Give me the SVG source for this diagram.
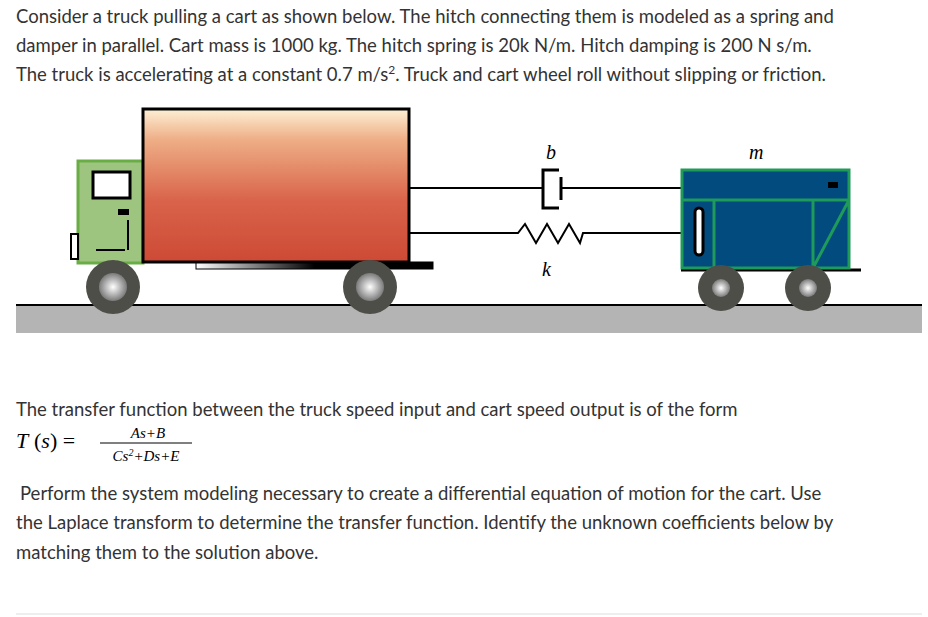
<svg xmlns="http://www.w3.org/2000/svg" width="928" height="617" viewBox="0 0 928 617">
<defs>
<linearGradient id="box" x1="0" y1="0" x2="0" y2="1"><stop offset="0" stop-color="#fdf0d5"/><stop offset="0.2" stop-color="#eeae86"/><stop offset="0.6" stop-color="#d9634a"/><stop offset="1" stop-color="#cd4a35"/></linearGradient>
<radialGradient id="hub"><stop offset="0" stop-color="#ffffff"/><stop offset="1" stop-color="#7a7a7a"/></radialGradient>
<linearGradient id="bar" x1="0" x2="1"><stop offset="0" stop-color="#fff"/><stop offset="0.5" stop-color="#000"/></linearGradient>
</defs>
<style>
.t{font-family:Lato,"Liberation Sans",sans-serif;font-size:18.5px;fill:#333}
.m{font-family:"Liberation Serif",serif;font-style:italic;fill:#000}
.ln{stroke:#000;stroke-width:2;fill:none}
.tyre{fill:#4e4e48}
.cg{stroke:#1e9a5a;stroke-width:3;fill:none}
</style>
<rect width="928" height="617" fill="#fff"/>
<text class="t" x="16" y="23">Consider a truck pulling a cart as shown below.  The hitch connecting them is modeled as a spring and</text>
<text class="t" x="16" y="52">damper in parallel.  Cart mass is 1000 kg.  The hitch spring is 20k N/m.  Hitch damping is 200 N s/m.</text>
<text class="t" x="16" y="81">The truck is accelerating at a constant 0.7 m/s<tspan dy="-7" font-size="12">2</tspan><tspan dy="7">.  Truck and cart wheel roll without slipping or friction.</tspan></text>

<g id="ground"><rect x="16" y="306" width="906" height="27" fill="#b4b4b4"/><line x1="16" y1="305" x2="922" y2="305" stroke="#000" stroke-width="2"/></g>

<g id="truck">
<rect x="78" y="161" width="65" height="102" fill="#9dc57f" stroke="#6aad46" stroke-width="3"/>
<rect x="93" y="172" width="37" height="26" fill="#fff" stroke="#000" stroke-width="3"/>
<rect x="118" y="209" width="11" height="6" fill="#000"/>
<line x1="128" y1="220" x2="128" y2="250" stroke="#000" stroke-width="2"/>
<line x1="96" y1="250" x2="125" y2="250" stroke="#000" stroke-width="2"/>
<rect x="71" y="234" width="7" height="25" fill="#fff" stroke="#000" stroke-width="2"/>
<rect x="196" y="262" width="237" height="7" fill="url(#bar)" stroke="#000" stroke-width="1"/>
<rect x="143" y="109" width="266" height="153" fill="url(#box)" stroke="#000" stroke-width="3"/>
<circle class="tyre" cx="113" cy="287" r="27"/><circle cx="113" cy="287" r="14" fill="url(#hub)"/>
<circle class="tyre" cx="370" cy="287" r="27"/><circle cx="370" cy="287" r="14" fill="url(#hub)"/>
</g>

<g id="connectors">
<g id="damper">
<path class="ln" d="M410 188 H542 M561 188 H681"/>
<path d="M559 170 H543 V208 H559" stroke="#000" stroke-width="3" fill="none"/>
<line x1="561" y1="177" x2="561" y2="200" stroke="#000" stroke-width="3"/>
</g>
<g id="spring">
<path class="ln" d="M410 233 H518 L525 224 L536 243 L547 224 L558 243 L569 224 L580 243 L583 233 H681" stroke-width="2.5"/>
</g>
</g>
<text class="m" x="546" y="159" font-size="20">b</text>
<text class="m" x="542" y="276" font-size="20">k</text>
<text class="m" x="749" y="159" font-size="20">m</text>

<g id="cart">
<line x1="681" y1="270" x2="861" y2="270" stroke="#000" stroke-width="3"/>
<rect x="682" y="170" width="167" height="98" fill="#024b7f"/>
<path class="cg" d="M682 170 H849 V268 H682 Z M682 200 H849 M714 200 V268 M813 200 V268 M813 268 L849 200"/>
<rect x="828" y="182" width="10" height="6" fill="#000"/>
<rect x="695" y="208" width="8" height="47" rx="4" fill="#fff" stroke="#000" stroke-width="3"/>
<circle class="tyre" cx="721" cy="288" r="23"/><circle cx="721" cy="288" r="9" fill="url(#hub)"/>
<circle class="tyre" cx="808" cy="288" r="23"/><circle cx="808" cy="288" r="9" fill="url(#hub)"/>
</g>

<text class="t" x="16" y="416">The transfer function between the truck speed input and cart speed output is of the form</text>
<text class="m" x="16" y="448" font-size="22">T</text>
<text x="34" y="448" font-family="Liberation Serif,serif" font-size="22">(<tspan font-style="italic">s</tspan>) =</text>
<text class="m" x="148" y="438" font-size="15" text-anchor="middle">As+B</text>
<line x1="100" y1="443" x2="192" y2="443" stroke="#000" stroke-width="1"/>
<text class="m" x="146" y="461" font-size="15" text-anchor="middle">Cs<tspan dy="-5" font-size="10">2</tspan><tspan dy="5">+Ds+E</tspan></text>

<text class="t" x="20" y="500">Perform the system modeling necessary to create a differential equation of motion for the cart.  Use</text>
<text class="t" x="16" y="529">the Laplace transform to determine the transfer function.  Identify the unknown coefficients below by</text>
<text class="t" x="16" y="559">matching them to the solution above.</text>
<line x1="16" y1="614" x2="922" y2="614" stroke="#ddd" stroke-width="1"/>
</svg>
